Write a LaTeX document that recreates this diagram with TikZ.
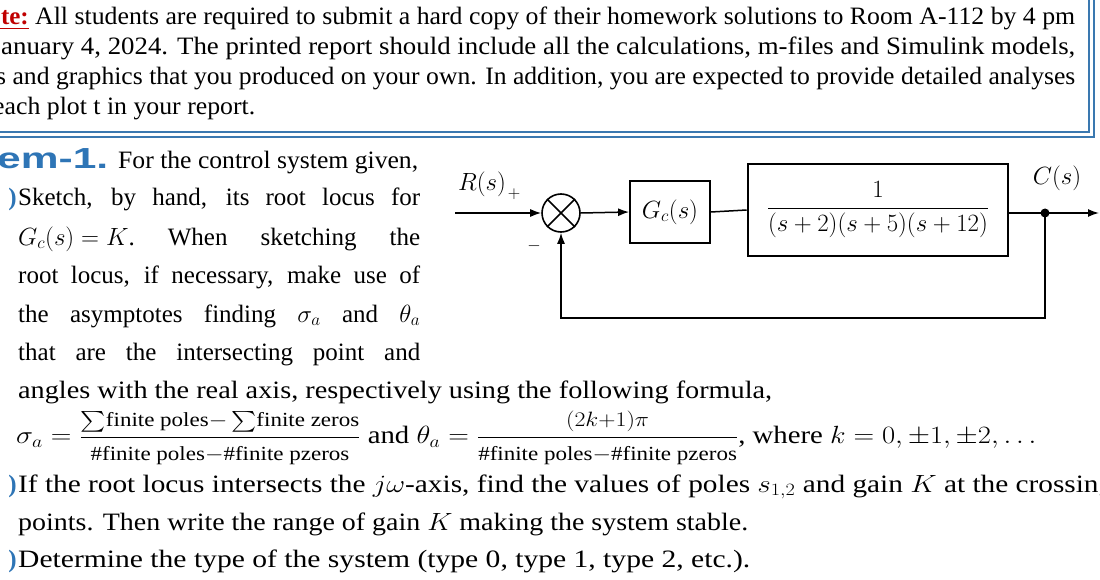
\documentclass[tikz,border=0pt]{standalone}
\usepackage{amsmath}
\usepackage{graphicx}
\usepackage{fontspec}
\setmainfont{Liberation Serif}
\setsansfont{Liberation Sans}
\usetikzlibrary{arrows.meta}
\definecolor{hdblue}{HTML}{2E75B6}
\definecolor{frameblue}{HTML}{3A78B0}
\definecolor{notered}{HTML}{C00000}
\newcommand\fitw[2]{\resizebox{#1}{\height}{#2}}
\begin{document}
\begin{tikzpicture}[x=1pt,y=-1pt,
  txt/.style={anchor=base west,inner sep=0pt,font=\fontsize{25}{27}\selectfont},
  lt/.style={anchor=base west,inner sep=0pt,font=\fontsize{25}{27}\selectfont},
  blk/.style={draw,line width=1.8pt,inner sep=0pt},
  arr/.style={-{Latex[length=11pt,width=8pt]},line width=1.5pt},
  ln/.style={line width=1.5pt}]
\useasboundingbox (0,0) rectangle (1100,580);
\clip (0,0) rectangle (1100,580);
\fill[white] (0,0) rectangle (1100,580);
% header frame
\draw[frameblue,line width=1.3pt] (-5,137) -- (1094,137) -- (1094,-5);
\draw[frameblue,line width=1.3pt] (-5,132) -- (1089,132) -- (1089,-5);
% header text
\node[txt,anchor=base east] (nt) at (29,25) {\textcolor{notered}{\bfseries\underline{Note:}}};
\node[txt] (h1) at (35,25) {\fitw{1040pt}{All students are required to submit a hard copy of their homework solutions to Room A-112 by 4 pm}};
\node[txt] (h2) at (1,55) {\fitw{1074pt}{anuary 4, 2024. The printed report should include all the calculations, m-files and Simulink models,}};
\node[txt] (h3) at (-4,85) {\fitw{1079pt}{s and graphics that you produced on your own. In addition, you are expected to provide detailed analyses}};
\node[txt] (h4) at (-7,115) {\fitw{262pt}{each plot t in your report.}};
% problem text
\node[lt] (p0a) at (-3,169) {\fitw{111pt}{\textcolor{hdblue}{\fontsize{29}{30}\selectfont\sffamily\bfseries em-1.}}};
\node[lt] (p0) at (118,169) {\fitw{300pt}{For the control system given,}};
\node[lt,anchor=base east] (pa) at (17,206) {\textcolor{hdblue}{\bfseries)}};
\node[lt] (p1) at (18,206) {\makebox[402pt][s]{Sketch, by hand, its root locus for}};
\node[lt] (p2) at (18,245) {\makebox[402pt][s]{\mbox{$G_c(s)=K$.} When sketching the}};
\node[lt] (p3) at (18,283) {\makebox[402pt][s]{root locus, if necessary, make use of}};
\node[lt] (p4) at (18,322) {\makebox[402pt][s]{the asymptotes finding $\sigma_a$ and $\theta_a$}};
\node[lt] (p5) at (18,360) {\makebox[402pt][s]{that are the intersecting point and}};
\node[lt] (p6) at (18,398) {\fitw{754pt}{angles with the real axis, respectively using the following formula,}};
\node[lt,anchor=west] (f1) at (16,438) {\fitw{1025pt}{$\sigma_a=\dfrac{\text{\fontsize{20}{21}\selectfont $\sum$finite poles$-\sum$finite zeros}}{\text{\fontsize{20}{21}\selectfont \#finite poles$-$\#finite pzeros}}$ and $\theta_a=\dfrac{\text{\fontsize{20}{21}\selectfont$(2k{+}1)\pi$}}{\text{\fontsize{20}{21}\selectfont \#finite poles$-$\#finite pzeros}}$, where $k=0,\pm1,\pm2,\dots$}};
\node[lt,anchor=base east] (pb) at (17,492) {\textcolor{hdblue}{\bfseries)}};
\node[lt] (p7) at (18,492) {\fitw{1095pt}{If the root locus intersects the $j\omega$-axis, find the values of poles $s_{1,2}$ and gain $K$ at the crossing}};
\node[lt] (p8) at (18,530) {\fitw{730pt}{points. Then write the range of gain $K$ making the system stable.}};
\node[lt,anchor=base east] (pc) at (17,567) {\textcolor{hdblue}{\bfseries)}};
\node[lt] (p9) at (18,567) {\fitw{732pt}{Determine the type of the system (type 0, type 1, type 2, etc.).}};
% block diagram
\coordinate (in) at (455,213);
\node[draw,circle,line width=1.6pt,minimum size=38pt,inner sep=0pt] (sum) at (561,213) {};
\draw[line width=1.6pt] (sum.north west) -- (sum.south east) (sum.north east) -- (sum.south west);
\node[blk,minimum width=80pt,minimum height=62pt] (gc) at (670,212) {\fontsize{26}{28}\selectfont $G_c(s)$};
\node[blk,line width=2.6pt,minimum width=260pt,minimum height=92pt] (pl) at (878,210) {\fontsize{26}{28}\selectfont $\dfrac{1}{(s+2)(s+5)(s+12)}$};
\coordinate (dot) at (1045,213);
\coordinate (out) at (1099,213);
\coordinate (fb1) at (1045,318);
\coordinate (fb2) at (561,318);
\node[font=\fontsize{25}{27}\selectfont] (R) at (482,184) {$R(s)$};
\node[font=\fontsize{17}{18}\selectfont] (plus) at (514,194) {$+$};
\node[font=\fontsize{17}{18}\selectfont] (minus) at (534,246) {$-$};
\node[font=\fontsize{25}{27}\selectfont] (C) at (1057,178) {$C(s)$};
\draw[arr] (in) -- (sum.west);
\draw[arr] (sum.east) -- (gc.west);
\draw[ln] (gc.east) -- (pl.west);
\draw[ln] (pl.east |- dot) -- (dot);
\draw[arr] (dot) -- (out);
\fill (dot) circle (4.5pt);
\draw[arr] (dot) -- (fb1) -- (fb2) -- (sum.south);
\end{tikzpicture}
\end{document}
